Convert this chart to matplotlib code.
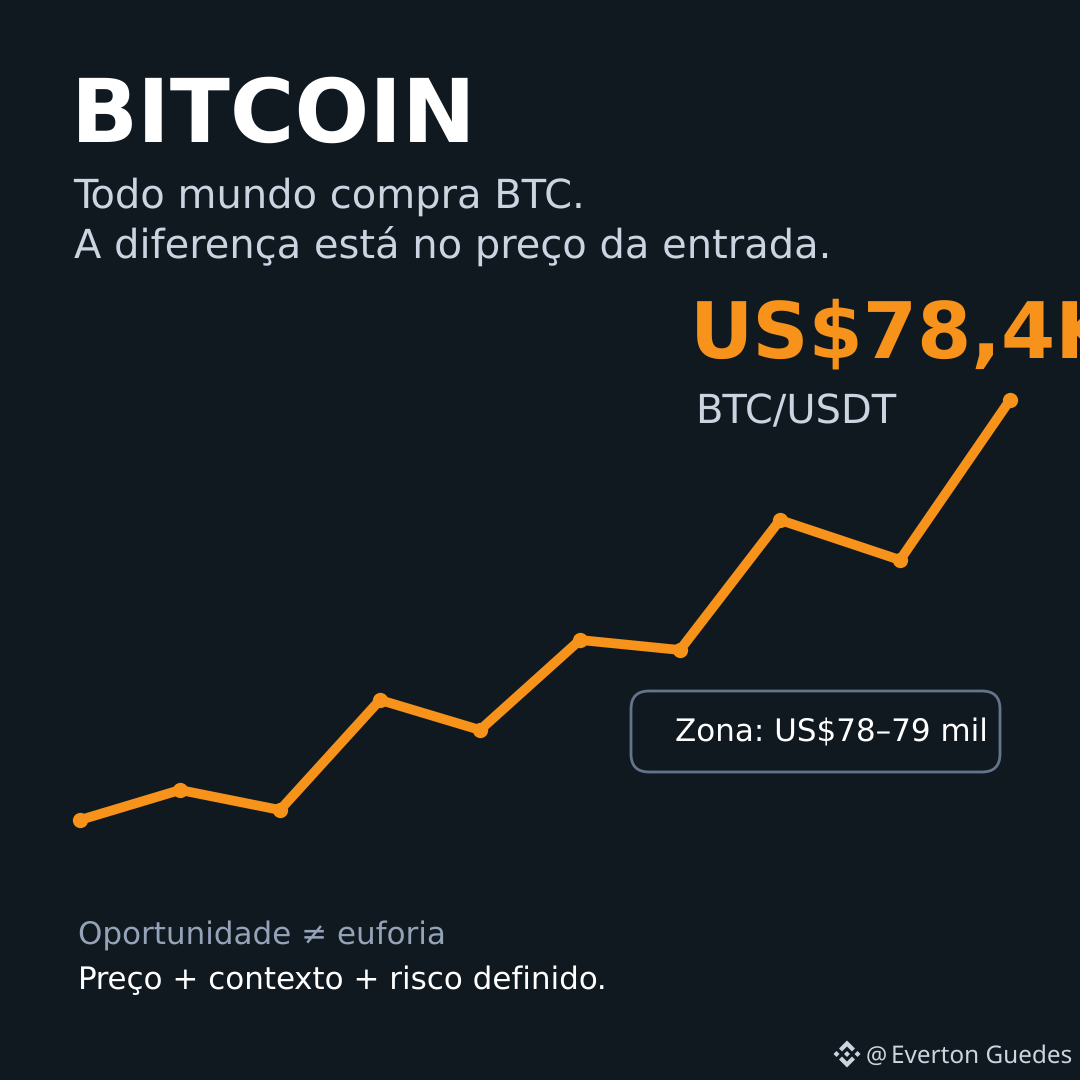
import matplotlib
matplotlib.use('Agg')
import matplotlib.pyplot as plt
from matplotlib.patches import FancyBboxPatch, Polygon

plt.rcParams['text.hinting'] = 'no_hinting'
plt.rcParams['text.hinting_factor'] = 1

BG = '#111920'
ORANGE = '#f7931a'
x_vals = [80, 180, 280, 380, 480, 580, 680, 780, 900, 1010]
y_vals = [820, 790, 810, 700, 730, 640, 650, 520, 560, 400]

fig = plt.figure(figsize=(10.8, 10.8), dpi=100, facecolor=BG)
ax = fig.add_axes([0, 0, 1, 1])
ax.set_xlim(0, 1080)
ax.set_ylim(1080, 0)
ax.axis('off')

ax.plot(x_vals, y_vals, color=ORANGE, lw=7, marker='o', ms=11, mew=0, solid_joinstyle='miter', zorder=3)

def T(x, y, s, size, color, weight='normal', family='DejaVu Sans'):
    ax.text(x, y, s, fontsize=size, color=color, fontweight=weight, family=family, va='baseline', ha='left')

T(70.5, 142, 'BITCOIN', 63.36, 'white', 'bold')
T(73.5, 208, 'Todo mundo compra BTC.', 28.8, '#cbd5e1')
T(73.5, 258, 'A diferença está no preço da entrada.', 28.8, '#cbd5e1')
T(690, 358, 'US$78,4K', 56.16, ORANGE, 'bold')
T(695, 423, 'BTC/USDT', 28.8, '#cbd5e1')

ax.add_patch(FancyBboxPatch((631, 691), 369, 81, boxstyle='round,pad=0,rounding_size=18',
                            fc=BG, ec='#64748b', lw=2, zorder=2))
T(675, 741, 'Zona: US$78–79 mil', 22.32, 'white')
T(78, 945, 'Oportunidade ≠ euforia', 22.32, '#94a3b8')
T(78, 989, 'Preço + contexto + risco definido.', 22.46, 'white')

c = '#cbd5e1'
cx, cy = 847, 1054
def P(pts):
    ax.add_patch(Polygon([(cx+a, cy+b) for a, b in pts], fc=c, ec='none'))
P([(0, -13.5), (8, -5.5), (5, -2.5), (0, -7.5), (-5, -2.5), (-8, -5.5)])
P([(0, 13.5), (8, 5.5), (5, 2.5), (0, 7.5), (-5, 2.5), (-8, 5.5)])
P([(0, -3), (3, 0), (0, 3), (-3, 0)])
P([(-10.5, -3), (-7.5, 0), (-10.5, 3), (-13.5, 0)])
P([(10.5, -3), (13.5, 0), (10.5, 3), (7.5, 0)])
T(866, 1063, '@', 17, c, family='Noto Sans')
T(891, 1063, 'Everton Guedes', 17.5, c, family='Noto Sans')

fig.savefig('out.png', dpi=100, facecolor=BG)
